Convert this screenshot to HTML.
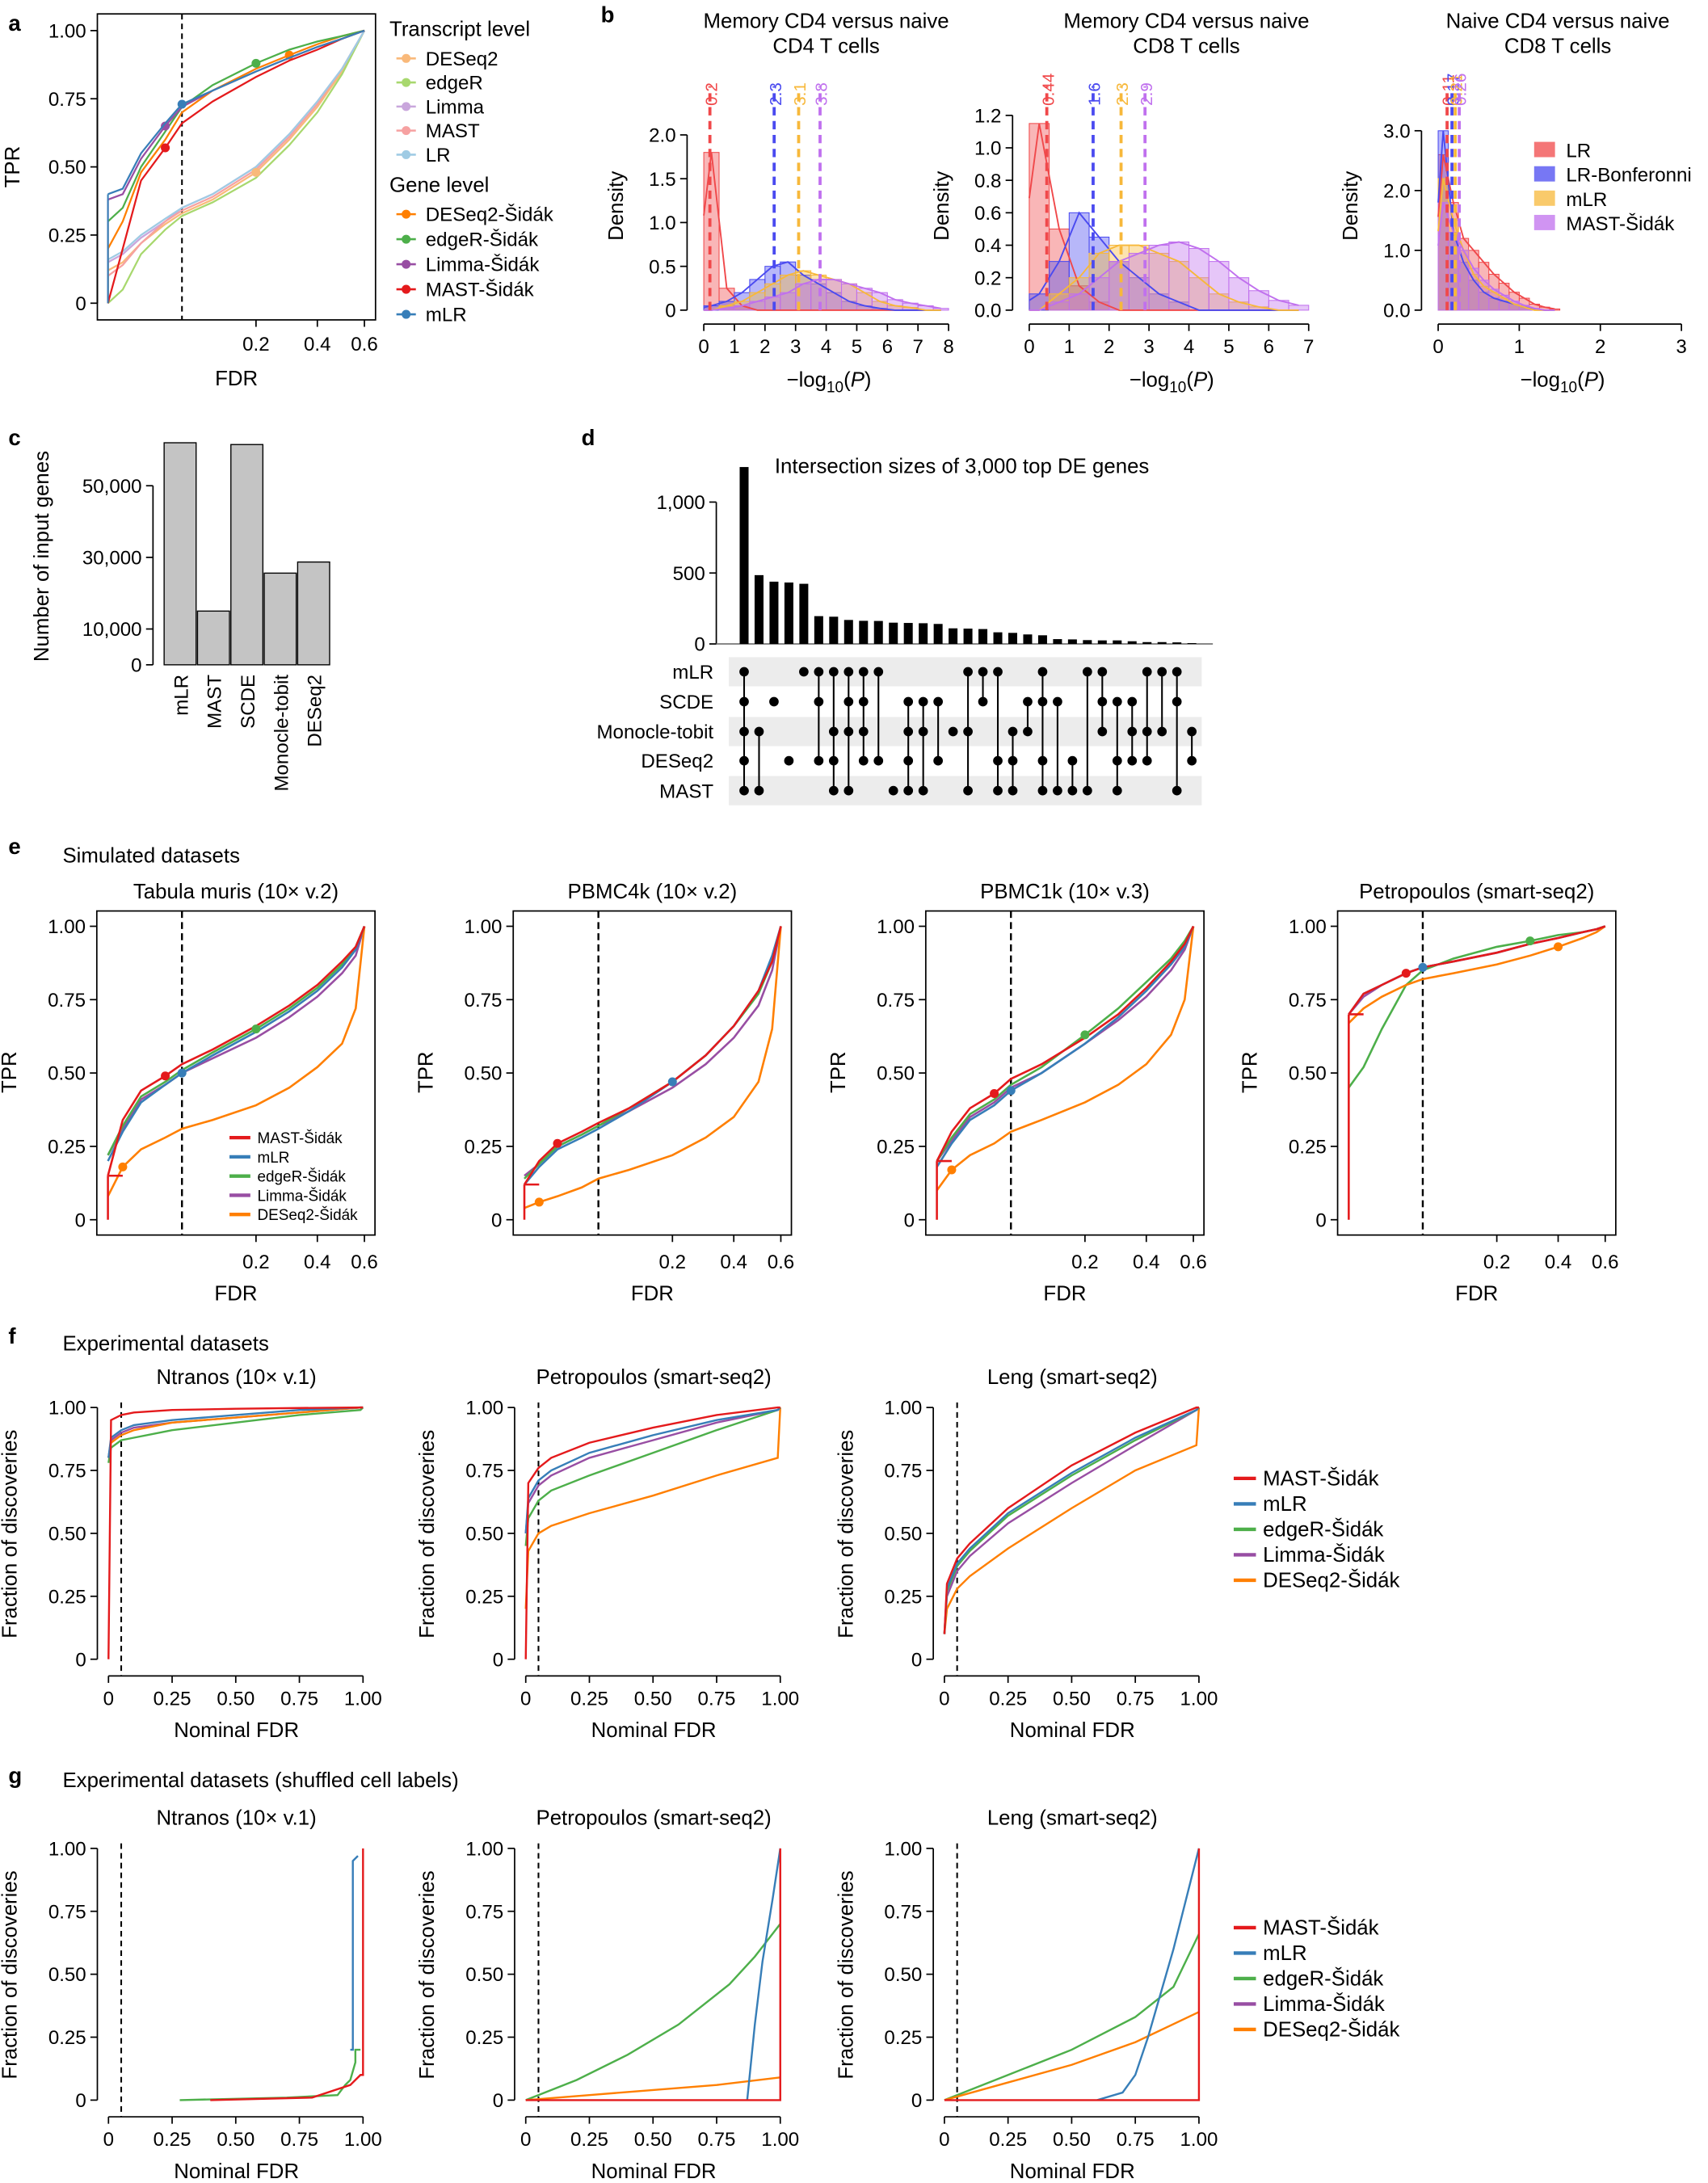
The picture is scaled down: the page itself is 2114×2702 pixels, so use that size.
<!DOCTYPE html>
<html><head><meta charset="utf-8"><title>DE benchmark figure</title>
<style>
html,body{margin:0;padding:0;background:#fff;}
svg{display:block;font-family:"Liberation Sans",Arial,sans-serif;}
</style></head>
<body>
<svg id="fig" xmlns="http://www.w3.org/2000/svg" width="2114" height="2702" viewBox="0 0 1228 1569.6" preserveAspectRatio="none"></svg>
<script>
// ---------- DATA ----------
const colors = {MAST:'#e41a1c', mLR:'#377eb8', edgeR:'#4daf4a', Limma:'#984ea3', DESeq2:'#ff7f00'};
// panel a
const aFdr = [0, 0.002, 0.01, 0.03, 0.05, 0.1, 0.2, 0.3, 0.4, 0.5, 0.6];
const aTxDESeq2 = [0.12,0.15,0.22,0.29,0.33,0.38,0.48,0.6,0.72,0.85,1.0];
const aTxEdgeR = [0.0,0.05,0.18,0.27,0.32,0.37,0.46,0.58,0.7,0.84,1.0];
const aTxLimma = [0.15,0.18,0.24,0.3,0.35,0.4,0.5,0.62,0.74,0.86,1.0];
const aTxMAST = [0.1,0.14,0.22,0.3,0.34,0.39,0.49,0.61,0.73,0.86,1.0];
const aTxLR = [0.16,0.19,0.25,0.31,0.35,0.4,0.5,0.62,0.74,0.86,1.0];
const aGnDESeq2 = [0.2,0.3,0.48,0.6,0.7,0.78,0.86,0.91,0.95,0.98,1.0];
const aGnEdgeR = [0.3,0.35,0.5,0.63,0.72,0.8,0.88,0.93,0.96,0.98,1.0];
const aGnLimma = [0.38,0.4,0.53,0.65,0.72,0.78,0.85,0.9,0.94,0.97,1.0];
const aGnMAST = [0.0,0.2,0.45,0.57,0.66,0.74,0.83,0.89,0.93,0.97,1.0];
const aGnmLR = [0.4,0.42,0.55,0.66,0.73,0.78,0.85,0.9,0.94,0.97,1.0];
const aTicksY = [0,0.25,0.5,0.75,1];
const aTickLabelsY = ['0','0.25','0.50','0.75','1.00'];
const fdrTicks = [0.2,0.4,0.6];
const fdrTickLabels = ['0.2','0.4','0.6'];
// panel b
const b1LR = [1.8,0.25,0.05,0,0,0,0,0,0,0,0,0,0,0,0,0];
const b1Bonf = [0.05,0.1,0.2,0.35,0.5,0.55,0.4,0.3,0.2,0.1,0.05,0.02,0,0,0,0];
const b1mLR = [0,0.05,0.1,0.2,0.3,0.4,0.45,0.4,0.35,0.3,0.2,0.1,0.05,0.03,0,0];
const b1MAST = [0,0.02,0.05,0.1,0.15,0.2,0.3,0.35,0.35,0.3,0.25,0.2,0.12,0.08,0.05,0.02];
const b1Med = [0.2,2.3,3.1,3.8];
const b2LR = [1.15,0.5,0.15,0.05,0,0,0,0,0,0,0,0,0,0];
const b2Bonf = [0.1,0.3,0.6,0.45,0.3,0.2,0.1,0.05,0,0,0,0,0,0];
const b2mLR = [0,0.1,0.2,0.35,0.4,0.4,0.35,0.3,0.2,0.1,0.05,0.02,0,0];
const b2MAST = [0,0.05,0.1,0.2,0.3,0.35,0.4,0.42,0.38,0.3,0.2,0.12,0.06,0.03];
const b2Med = [0.44,1.6,2.3,2.9];
const b3LR = [2.6,1.8,1.2,1.0,0.8,0.6,0.45,0.3,0.2,0.1,0.05,0.02];
const b3Bonf = [3.0,1.3,0.8,0.5,0.3,0.2,0.15,0.1,0.05,0.02,0,0];
const b3mLR = [2.2,1.5,1.0,0.6,0.4,0.3,0.2,0.1,0.05,0,0,0];
const b3MAST = [1.8,1.3,1.0,0.7,0.5,0.35,0.25,0.15,0.08,0.03,0,0];
const b3Med = [0.11,0.17,0.21,0.26];
const bMedLabels1 = ['0.2','2.3','3.1','3.8'];
const bMedLabels2 = ['0.44','1.6','2.3','2.9'];
const bMedLabels3 = ['0.11','0.17','0.21','0.26'];
// panel c
const cCats = ['mLR','MAST','SCDE','Monocle-tobit','DESeq2'];
const cVals = [62000,15000,61500,25600,28700];
const cTicks = [0,10000,30000,50000];
const cTickLabels = ['0','10,000','30,000','50,000'];
// panel d
const dSets = ['mLR','SCDE','Monocle-tobit','DESeq2','MAST'];
const dSizes = [1247,485,439,433,424,196,192,169,163,162,150,148,146,141,110,108,105,82,78,67,61,34,32,27,25,25,19,13,13,11,6];
const dMembers = ['11111','00101','01000','00010','10000','11010','10111','11101','11110','10010','00001','01111','01101','01010','00100','10101','11000','10011','00111','01100','11011','01001','00011','10001','11100','01011','01110','10110','10100','11001','00110'];
const dTicks = [0,500,1000];
const dTickLabels = ['0','500','1,000'];
// panel e
const eFdr = [0,0.002,0.01,0.03,0.05,0.1,0.2,0.3,0.4,0.5,0.56,0.6];
const e1MAST = [0.15,0.34,0.44,0.49,0.53,0.58,0.66,0.73,0.8,0.88,0.93,1];
const e1mLR = [0.2,0.3,0.4,0.46,0.5,0.56,0.64,0.71,0.78,0.86,0.92,1];
const e1edgeR = [0.22,0.32,0.42,0.47,0.51,0.57,0.65,0.72,0.79,0.87,0.93,1];
const e1Limma = [0.22,0.31,0.41,0.46,0.5,0.55,0.62,0.69,0.76,0.84,0.9,1];
const e1DESeq2 = [0.08,0.18,0.24,0.28,0.31,0.34,0.39,0.45,0.52,0.6,0.72,1];
const e2MAST = [0.12,0.2,0.26,0.3,0.33,0.38,0.47,0.56,0.66,0.78,0.88,1];
const e2mLR = [0.12,0.18,0.24,0.28,0.31,0.37,0.47,0.56,0.66,0.78,0.9,1];
const e2edgeR = [0.14,0.19,0.25,0.29,0.32,0.38,0.47,0.56,0.66,0.77,0.88,1];
const e2Limma = [0.15,0.19,0.25,0.29,0.32,0.37,0.45,0.53,0.62,0.73,0.85,1];
const e2DESeq2 = [0.04,0.06,0.08,0.11,0.14,0.17,0.22,0.28,0.35,0.47,0.65,1];
const e3MAST = [0.2,0.3,0.38,0.43,0.48,0.53,0.62,0.7,0.79,0.88,0.94,1];
const e3mLR = [0.18,0.26,0.34,0.39,0.44,0.5,0.6,0.69,0.78,0.87,0.93,1];
const e3edgeR = [0.2,0.28,0.36,0.41,0.46,0.52,0.63,0.72,0.81,0.89,0.95,1];
const e3Limma = [0.2,0.27,0.35,0.4,0.45,0.5,0.6,0.68,0.76,0.85,0.92,1];
const e3DESeq2 = [0.1,0.17,0.22,0.26,0.3,0.34,0.4,0.46,0.53,0.63,0.75,1];
const e4MAST = [0.7,0.77,0.8,0.84,0.86,0.88,0.91,0.94,0.96,0.98,0.99,1];
const e4mLR = [0.7,0.77,0.8,0.84,0.86,0.88,0.91,0.94,0.96,0.98,0.99,1];
const e4edgeR = [0.45,0.52,0.65,0.8,0.85,0.89,0.93,0.95,0.97,0.98,0.99,1];
const e4Limma = [0.7,0.76,0.8,0.84,0.86,0.88,0.91,0.94,0.96,0.98,0.99,1];
const e4DESeq2 = [0.67,0.72,0.76,0.8,0.82,0.84,0.87,0.9,0.93,0.96,0.98,1];
// panel f
const fFdr = [0,0.01,0.05,0.1,0.25,0.5,0.75,0.99,1];
const f1MAST = [0,0.95,0.97,0.98,0.99,0.995,0.998,1,1];
const f1mLR = [0.8,0.88,0.91,0.93,0.95,0.97,0.99,1,1];
const f1edgeR = [0.78,0.84,0.87,0.88,0.91,0.94,0.97,0.99,1];
const f1Limma = [0.8,0.87,0.9,0.92,0.94,0.96,0.98,1,1];
const f1DESeq2 = [0.8,0.86,0.89,0.91,0.94,0.96,0.98,1,1];
const f2MAST = [0,0.7,0.76,0.8,0.86,0.92,0.97,1,1];
const f2mLR = [0.5,0.64,0.71,0.75,0.82,0.89,0.95,0.99,1];
const f2edgeR = [0.45,0.56,0.63,0.67,0.73,0.82,0.91,0.99,1];
const f2Limma = [0.5,0.62,0.69,0.73,0.8,0.87,0.94,0.99,1];
const f2DESeq2 = [0.2,0.43,0.5,0.53,0.58,0.65,0.73,0.8,1];
const f3MAST = [0.1,0.3,0.4,0.46,0.6,0.77,0.9,1,1];
const f3mLR = [0.1,0.28,0.38,0.44,0.58,0.74,0.88,0.99,1];
const f3edgeR = [0.1,0.27,0.37,0.43,0.57,0.73,0.87,0.99,1];
const f3Limma = [0.1,0.25,0.35,0.41,0.54,0.7,0.85,0.99,1];
const f3DESeq2 = [0.1,0.2,0.28,0.33,0.44,0.6,0.75,0.85,1];
// panel g
const g1edgeRx = [0.28,0.7,0.9,0.93,0.95,0.97,0.97,0.99];
const g1edgeRy = [0,0.01,0.02,0.06,0.08,0.15,0.2,0.2];
const g1MASTx = [0.4,0.8,0.95,0.99,1,1];
const g1MASTy = [0,0.01,0.06,0.1,0.1,1.0];
const g1mLRx = [0.95,0.96,0.96,0.98];
const g1mLRy = [0.2,0.2,0.95,0.97];
const g2edgeRx = [0,0.2,0.4,0.6,0.8,0.9,1.0];
const g2edgeRy = [0,0.08,0.18,0.3,0.46,0.57,0.7];
const g2DESeq2x = [0,0.25,0.5,0.75,1.0];
const g2DESeq2y = [0,0.02,0.04,0.06,0.09];
const g2mLRx = [0.87,0.88,0.9,0.93,0.97,1.0];
const g2mLRy = [0,0.1,0.3,0.55,0.8,1.0];
const g2MASTx = [0,1,1];
const g2MASTy = [0,0,1];
const g3edgeRx = [0,0.25,0.5,0.75,0.9,1.0];
const g3edgeRy = [0,0.1,0.2,0.33,0.45,0.66];
const g3DESeq2x = [0,0.25,0.5,0.75,1.0];
const g3DESeq2y = [0,0.07,0.14,0.23,0.35];
const g3mLRx = [0.6,0.7,0.75,0.8,0.9,1.0];
const g3mLRy = [0,0.03,0.1,0.25,0.6,1.0];
const g3MASTx = [0,1,1];
const g3MASTy = [0,0,1];
const unitTicks = [0,0.25,0.5,0.75,1];
const unitTickLabels = ['0','0.25','0.50','0.75','1.00'];

// ---------- HELPERS ----------
const NS = 'http://www.w3.org/2000/svg';
const svg = document.getElementById('fig');
function mk(tag, attrs, name, parent) {
  const el = document.createElementNS(NS, tag);
  for (const k in attrs) el.setAttribute(k, attrs[k]);
  
  
  (parent || svg).appendChild(el);
  return el;
}
function txt(x, y, s, name, size, anchor, extra) {
  const a = {x: x, y: y, 'font-size': size || 14, 'text-anchor': anchor || 'start', fill: '#000'};
  if (extra) for (const k in extra) a[k] = extra[k];
  const t = mk('text', a, name);
  t.textContent = s;
  return t;
}
function line(x1, y1, x2, y2, name, stroke, w, dash) {
  const a = {x1: x1, y1: y1, x2: x2, y2: y2, stroke: stroke || '#000', 'stroke-width': w || 1};
  if (dash) a['stroke-dasharray'] = dash;
  return mk('line', a, name);
}
function poly(xs, ys, sx, sy, color, name, w) {
  let d = '';
  for (let i = 0; i < xs.length; i++) d += (i ? 'L' : 'M') + sx(xs[i]).toFixed(2) + ',' + sy(ys[i]).toFixed(2);
  return mk('path', {d: d, fill: 'none', stroke: color, 'stroke-width': w || 1.3}, name);
}
function yAxis(x, ticks, labels, sy, name) {
  line(x, sy(ticks[0]), x, sy(ticks[ticks.length - 1]), name + '-line');
  ticks.forEach((t, i) => {
    line(x - 5, sy(t), x, sy(t), name + '-tick');
    txt(x - 8, sy(t) + 5, labels[i], name + '-label', 14, 'end');
  });
}
function xAxis(y, ticks, labels, sx, name, drawLine) {
  if (drawLine) line(sx(ticks[0]), y, sx(ticks[ticks.length - 1]), y, name + '-line');
  ticks.forEach((t, i) => {
    line(sx(t), y, sx(t), y + 5, name + '-tick');
    txt(sx(t), y + 21, labels[i], name + '-label', 14, 'middle');
  });
}
function rotLabel(x, y, s, name, size) {
  return txt(x, y, s, name, size || 15, 'middle', {transform: 'rotate(-90 ' + x + ' ' + y + ')'});
}
function dot(x, y, color, name) {
  return mk('circle', {cx: x, cy: y, r: 3.2, fill: color}, name);
}

// ---------- PANEL LETTERS ----------
[['a',6,22],['b',432,16],['c',6,320],['d',418,320],['e',6,614],['f',6,966],['g',6,1282]].forEach(p => {
  txt(p[1], p[2], p[0], 'panel-letter-' + p[0], 16, 'start', {'font-weight': 'bold'});
});

// ---------- PANEL A ----------
(function () {
  const x0 = 77.6, sx = v => x0 + 184.4 * Math.sqrt(v / 0.6);
  const sy = v => 218 - 196 * v;
  mk('rect', {x: 70, y: 10, width: 200, height: 220, fill: 'none', stroke: '#000'}, 'panel-a-frame');
  yAxis(70, aTicksY, aTickLabelsY, sy, 'panel-a-y-axis');
  line(70, sy(0), 70, sy(1), 'panel-a-y-axis-line2');
  fdrTicks.forEach((t, i) => {
    line(sx(t), 230, sx(t), 235, 'panel-a-x-tick');
    txt(sx(t), 252, fdrTickLabels[i], 'panel-a-x-tick-label', 14, 'middle');
  });
  line(sx(0.05), 10, sx(0.05), 230, 'panel-a-fdr-threshold', '#000', 1.2, '4,3');
  txt(170, 277, 'FDR', 'panel-a-x-title', 15, 'middle');
  rotLabel(14, 120, 'TPR', 'panel-a-y-title');
  const tx = [['DESeq2', aTxDESeq2, '#f9b97a'], ['edgeR', aTxEdgeR, '#a8d86e'], ['Limma', aTxLimma, '#c9a6dc'], ['MAST', aTxMAST, '#f6a1a1'], ['LR', aTxLR, '#9fcbe4']];
  const gn = [['DESeq2-Šidák', aGnDESeq2, colors.DESeq2, 7], ['edgeR-Šidák', aGnEdgeR, colors.edgeR, 6], ['Limma-Šidák', aGnLimma, colors.Limma, 3], ['MAST-Šidák', aGnMAST, colors.MAST, 3], ['mLR', aGnmLR, colors.mLR, 4]];
  tx.forEach(s => { poly(aFdr, s[1], sx, sy, s[2], 'panel-a-line-' + s[0]); });
  tx.forEach(s => { line(x0, sy(0), x0, sy(s[1][0]), 'panel-a-start-' + s[0], s[2], 1.2); });
  dot(sx(0.2), sy(aTxDESeq2[6]), '#f9b97a', 'panel-a-point-DESeq2');
  gn.forEach(s => {
    poly(aFdr, s[1], sx, sy, s[2], 'panel-a-line-' + s[0]);
    line(x0, sy(0), x0, sy(s[1][0]), 'panel-a-start-' + s[0], s[2], 1.2);
    dot(sx(aFdr[s[3]]), sy(s[1][s[3]]), s[2], 'panel-a-point-' + s[0]);
  });
  // legend
  txt(280, 26, 'Transcript level', 'panel-a-legend-heading-transcript', 15);
  tx.forEach((s, i) => {
    const y = 42 + i * 17.3;
    line(285, y, 299, y, 'panel-a-legend-line', s[2], 1.5);
    dot(292, y, s[2], 'panel-a-legend-dot');
    txt(306, y + 5, s[0], 'panel-a-legend-entry', 14);
  });
  txt(280, 138, 'Gene level', 'panel-a-legend-heading-gene', 15);
  gn.forEach((s, i) => {
    const y = 154 + i * 18;
    line(285, y, 299, y, 'panel-a-legend-line', s[2], 1.5);
    dot(292, y, s[2], 'panel-a-legend-dot');
    txt(306, y + 5, s[0], 'panel-a-legend-entry', 14);
  });
})();

// ---------- PANEL B ----------
const bColors = {LR: '#f0484a', Bonf: '#4a4af0', mLR: '#f7b83a', MAST: '#c070ee'};
function histPanel(cfg) {
  const sx = v => cfg.x0 + cfg.px * v, sy = v => 223 - cfg.py * v;
  const series = [['LR', cfg.LR], ['Bonf', cfg.Bonf], ['mLR', cfg.mLR], ['MAST', cfg.MAST]];
  series.forEach(s => {
    const c = bColors[s[0]];
    s[1].forEach((h, i) => {
      if (h <= 0) return;
      mk('rect', {x: sx(i * cfg.bw), y: sy(h), width: cfg.px * cfg.bw, height: cfg.py * h, fill: c, 'fill-opacity': 0.4, stroke: c, 'stroke-width': 0.6}, cfg.name + '-bar-' + s[0]);
    });
  });
  series.forEach(s => {
    const xs = [0], ys = [s[1][0] * 0.6];
    s[1].forEach((h, i) => { xs.push((i + 0.5) * cfg.bw); ys.push(h); });
    poly(xs, ys, sx, sy, bColors[s[0]], cfg.name + '-density-' + s[0], 1.1);
  });
  cfg.med.forEach((m, i) => {
    const c = bColors[series[i][0]];
    line(sx(m), 223, sx(m), cfg.top, cfg.name + '-median-' + series[i][0], c, 2.2, '6,4');
    const lx = sx(m) + 5, ly = cfg.top + 14;
    txt(lx, ly, cfg.medLabels[i], cfg.name + '-median-label', 12, 'start', {fill: c, transform: 'rotate(-90 ' + lx + ' ' + ly + ')'});
  });
  yAxis(cfg.x0 - 12, cfg.yt, cfg.ytl, sy, cfg.name + '-y-axis');
  xAxis(233, cfg.xt, cfg.xt.map(String), sx, cfg.name + '-x-axis', true);
  rotLabel(cfg.x0 - 58, 148, 'Density', cfg.name + '-y-title');
  txt(cfg.cx, 20, cfg.t1, cfg.name + '-title-1', 15, 'middle');
  txt(cfg.cx, 38, cfg.t2, cfg.name + '-title-2', 15, 'middle');
  const xl = txt(cfg.x0 + cfg.px * cfg.xt[cfg.xt.length - 1] / 2 + 2, 278, '', cfg.name + '-x-title', 15, 'middle');
  xl.innerHTML = '−log<tspan font-size="11" dy="4">10</tspan><tspan dy="-4">(</tspan><tspan font-style="italic">P</tspan>)';
}
histPanel({name: 'panel-b1', x0: 506, px: 22, py: 63, bw: 0.5, LR: b1LR, Bonf: b1Bonf, mLR: b1mLR, MAST: b1MAST, med: b1Med, medLabels: bMedLabels1, top: 62, yt: [0, 0.5, 1, 1.5, 2], ytl: ['0', '0.5', '1.0', '1.5', '2.0'], xt: [0,1,2,3,4,5,6,7,8], cx: 594, t1: 'Memory CD4 versus naive', t2: 'CD4 T cells'});
histPanel({name: 'panel-b2', x0: 740, px: 28.7, py: 116.7, bw: 0.5, LR: b2LR, Bonf: b2Bonf, mLR: b2mLR, MAST: b2MAST, med: b2Med, medLabels: bMedLabels2, top: 62, yt: [0, 0.2, 0.4, 0.6, 0.8, 1.0, 1.2], ytl: ['0.0', '0.2', '0.4', '0.6', '0.8', '1.0', '1.2'], xt: [0,1,2,3,4,5,6,7], cx: 853, t1: 'Memory CD4 versus naive', t2: 'CD8 T cells'});
histPanel({name: 'panel-b3', x0: 1034, px: 58.3, py: 43, bw: 0.125, LR: b3LR, Bonf: b3Bonf, mLR: b3mLR, MAST: b3MAST, med: b3Med, medLabels: bMedLabels3, top: 62, yt: [0, 1, 2, 3], ytl: ['0.0', '1.0', '2.0', '3.0'], xt: [0,1,2,3], cx: 1120, t1: 'Naive CD4 versus naive', t2: 'CD8 T cells'});
[['LR', 'LR'], ['Bonf', 'LR-Bonferonni'], ['mLR', 'mLR'], ['MAST', 'MAST-Šidák']].forEach((e, i) => {
  const y = 102 + i * 17.5;
  mk('rect', {x: 1103, y: y, width: 15, height: 11, fill: bColors[e[0]], 'fill-opacity': 0.75}, 'panel-b-legend-swatch');
  txt(1126, y + 11, e[1], 'panel-b-legend-entry', 14);
});

// ---------- PANEL C ----------
(function () {
  const sy = v => 478 - v * 0.002575;
  yAxis(110, cTicks, cTickLabels, sy, 'panel-c-y-axis');
  cCats.forEach((c, i) => {
    const x = 118 + i * 24;
    mk('rect', {x: x, y: sy(cVals[i]), width: 23, height: 478 - sy(cVals[i]), fill: '#c4c4c4', stroke: '#000', 'stroke-width': 0.8}, 'panel-c-bar-' + c);
    const lx = x + 17, ly = 485;
    txt(lx, ly, c, 'panel-c-category-label', 14, 'end', {transform: 'rotate(-90 ' + lx + ' ' + ly + ')'});
  });
  rotLabel(35, 400, 'Number of input genes', 'panel-c-y-title');
})();

// ---------- PANEL D ----------
(function () {
  const sy = v => 463 - v * 0.102;
  const cx = i => 535 + i * 10.73;
  const rowY = [483, 504.5, 526, 547, 568.5];
  yAxis(515, dTicks, dTickLabels, sy, 'panel-d-y-axis');
  line(515, 463, 872, 463, 'panel-d-baseline', '#777');
  txt(557, 340, 'Intersection sizes of 3,000 top DE genes', 'panel-d-title', 15);
  [0, 2, 4].forEach(r => mk('rect', {x: 524, y: rowY[r] - 10.5, width: 340, height: 21, fill: '#ececec'}, 'panel-d-row-band'));
  dSets.forEach((s, r) => txt(513, rowY[r] + 5, s, 'panel-d-set-label', 14, 'end'));
  dSizes.forEach((v, i) => {
    mk('rect', {x: cx(i) - 3.2, y: sy(v), width: 6.4, height: 463 - sy(v), fill: '#000'}, 'panel-d-bar');
    const m = dMembers[i];
    let lo = -1, hi = -1;
    for (let r = 0; r < 5; r++) if (m[r] === '1') { if (lo < 0) lo = r; hi = r; }
    if (hi > lo) line(cx(i), rowY[lo], cx(i), rowY[hi], 'panel-d-connector', '#000', 1.2);
    for (let r = 0; r < 5; r++) if (m[r] === '1') mk('circle', {cx: cx(i), cy: rowY[r], r: 3.4, fill: '#000'}, 'panel-d-member-dot');
  });
})();

// ---------- PANEL E ----------
txt(45, 620, 'Simulated datasets', 'panel-e-heading', 15);
function ePanel(cfg) {
  const x0 = cfg.x0, sx = v => x0 + 184.4 * Math.sqrt(v / 0.6), sy = v => 877 - 211 * v;
  mk('rect', {x: x0 - 8, y: 655, width: 200, height: 233, fill: 'none', stroke: '#000'}, cfg.name + '-frame');
  aTicksY.forEach((t, i) => {
    line(x0 - 13, sy(t), x0 - 8, sy(t), cfg.name + '-y-tick');
    txt(x0 - 16, sy(t) + 5, aTickLabelsY[i], cfg.name + '-y-tick-label', 14, 'end');
  });
  fdrTicks.forEach((t, i) => {
    line(sx(t), 888, sx(t), 893, cfg.name + '-x-tick');
    txt(sx(t), 912, fdrTickLabels[i], cfg.name + '-x-tick-label', 14, 'middle');
  });
  line(sx(0.05), 655, sx(0.05), 888, cfg.name + '-fdr-threshold', '#000', 1.4, '5,3');
  txt(cfg.x0 + 92, 646, cfg.title, cfg.name + '-title', 15, 'middle');
  txt(cfg.x0 + 92, 935, 'FDR', cfg.name + '-x-title', 15, 'middle');
  rotLabel(x0 - 66, 771, 'TPR', cfg.name + '-y-title');
  const ser = [['Limma', cfg.Limma], ['edgeR', cfg.edgeR], ['DESeq2', cfg.DESeq2], ['mLR', cfg.mLR], ['MAST', cfg.MAST]];
  ser.forEach(s => poly(eFdr, s[1], sx, sy, colors[s[0]], cfg.name + '-line-' + s[0], 1.5));
  line(x0, sy(0), x0, sy(cfg.MAST[0]), cfg.name + '-start-MAST', colors.MAST, 1.5);
  line(x0, sy(cfg.MAST[0]), sx(eFdr[1]), sy(cfg.MAST[0]), cfg.name + '-start-step', colors.MAST, 1.5);
  cfg.marks.forEach(mk2 => dot(sx(eFdr[mk2[1]]), sy(cfg[mk2[0]][mk2[1]]), colors[mk2[0]], cfg.name + '-point-' + mk2[0]));
}
ePanel({name: 'panel-e1', x0: 77.6, title: 'Tabula muris (10× v.2)', MAST: e1MAST, mLR: e1mLR, edgeR: e1edgeR, Limma: e1Limma, DESeq2: e1DESeq2, marks: [['MAST', 3], ['mLR', 4], ['edgeR', 6], ['DESeq2', 1]]});
ePanel({name: 'panel-e2', x0: 377, title: 'PBMC4k (10× v.2)', MAST: e2MAST, mLR: e2mLR, edgeR: e2edgeR, Limma: e2Limma, DESeq2: e2DESeq2, marks: [['MAST', 2], ['mLR', 6], ['DESeq2', 1]]});
ePanel({name: 'panel-e3', x0: 673.6, title: 'PBMC1k (10× v.3)', MAST: e3MAST, mLR: e3mLR, edgeR: e3edgeR, Limma: e3Limma, DESeq2: e3DESeq2, marks: [['MAST', 3], ['mLR', 4], ['edgeR', 6], ['DESeq2', 1]]});
ePanel({name: 'panel-e4', x0: 969.7, title: 'Petropoulos (smart-seq2)', MAST: e4MAST, mLR: e4mLR, edgeR: e4edgeR, Limma: e4Limma, DESeq2: e4DESeq2, marks: [['MAST', 3], ['mLR', 4], ['edgeR', 7], ['DESeq2', 8]]});
[['MAST', 'MAST-Šidák'], ['mLR', 'mLR'], ['edgeR', 'edgeR-Šidák'], ['Limma', 'Limma-Šidák'], ['DESeq2', 'DESeq2-Šidák']].forEach((e, i) => {
  const y = 818 + i * 13.8;
  line(165, y, 180, y, 'panel-e1-legend-line', colors[e[0]], 2.5);
  txt(185, y + 4, e[1], 'panel-e1-legend-entry', 11);
});

// ---------- PANELS F & G ----------
function fgPanel(cfg) {
  const sx = v => cfg.x0 + 183 * v, sy = v => cfg.y0 - 181 * v;
  yAxis(cfg.x0 - 8, unitTicks, unitTickLabels, sy, cfg.name + '-y-axis');
  xAxis(cfg.y0 + 12, unitTicks, unitTickLabels, sx, cfg.name + '-x-axis', true);
  line(sx(0.05), sy(1.02), sx(0.05), cfg.y0 + 12, cfg.name + '-fdr-threshold', '#000', 1.2, '4,3');
  txt(cfg.x0 + 92, sy(1) - 17, cfg.title, cfg.name + '-title', 15, 'middle');
  txt(cfg.x0 + 92, cfg.y0 + 56, 'Nominal FDR', cfg.name + '-x-title', 15, 'middle');
  rotLabel(cfg.x0 - 66, cfg.y0 - 90, 'Fraction of discoveries', cfg.name + '-y-title');
  cfg.series.forEach(s => poly(s[1], s[2], sx, sy, colors[s[0]], cfg.name + '-line-' + s[0], 1.4));
}
txt(45, 971, 'Experimental datasets', 'panel-f-heading', 15);
fgPanel({name: 'panel-f1', x0: 78, y0: 1193, title: 'Ntranos (10× v.1)', series: [['Limma', fFdr, f1Limma], ['DESeq2', fFdr, f1DESeq2], ['edgeR', fFdr, f1edgeR], ['mLR', fFdr, f1mLR], ['MAST', fFdr, f1MAST]]});
fgPanel({name: 'panel-f2', x0: 378, y0: 1193, title: 'Petropoulos (smart-seq2)', series: [['Limma', fFdr, f2Limma], ['DESeq2', fFdr, f2DESeq2], ['edgeR', fFdr, f2edgeR], ['mLR', fFdr, f2mLR], ['MAST', fFdr, f2MAST]]});
fgPanel({name: 'panel-f3', x0: 679, y0: 1193, title: 'Leng (smart-seq2)', series: [['Limma', fFdr, f3Limma], ['DESeq2', fFdr, f3DESeq2], ['edgeR', fFdr, f3edgeR], ['mLR', fFdr, f3mLR], ['MAST', fFdr, f3MAST]]});
txt(45, 1285, 'Experimental datasets (shuffled cell labels)', 'panel-g-heading', 15);
fgPanel({name: 'panel-g1', x0: 78, y0: 1510, title: 'Ntranos (10× v.1)', series: [['edgeR', g1edgeRx, g1edgeRy], ['mLR', g1mLRx, g1mLRy], ['MAST', g1MASTx, g1MASTy]]});
fgPanel({name: 'panel-g2', x0: 378, y0: 1510, title: 'Petropoulos (smart-seq2)', series: [['edgeR', g2edgeRx, g2edgeRy], ['DESeq2', g2DESeq2x, g2DESeq2y], ['mLR', g2mLRx, g2mLRy], ['MAST', g2MASTx, g2MASTy]]});
fgPanel({name: 'panel-g3', x0: 679, y0: 1510, title: 'Leng (smart-seq2)', series: [['edgeR', g3edgeRx, g3edgeRy], ['DESeq2', g3DESeq2x, g3DESeq2y], ['mLR', g3mLRx, g3mLRy], ['MAST', g3MASTx, g3MASTy]]});
[[1063, 'panel-f'], [1386, 'panel-g']].forEach(L => {
  [['MAST', 'MAST-Šidák'], ['mLR', 'mLR'], ['edgeR', 'edgeR-Šidák'], ['Limma', 'Limma-Šidák'], ['DESeq2', 'DESeq2-Šidák']].forEach((e, i) => {
    const y = L[0] + i * 18.3;
    line(887, y, 903, y, L[1] + '-legend-line', colors[e[0]], 2.5);
    txt(908, y + 5, e[1], L[1] + '-legend-entry', 15);
  });
});
</script>
</body></html>
